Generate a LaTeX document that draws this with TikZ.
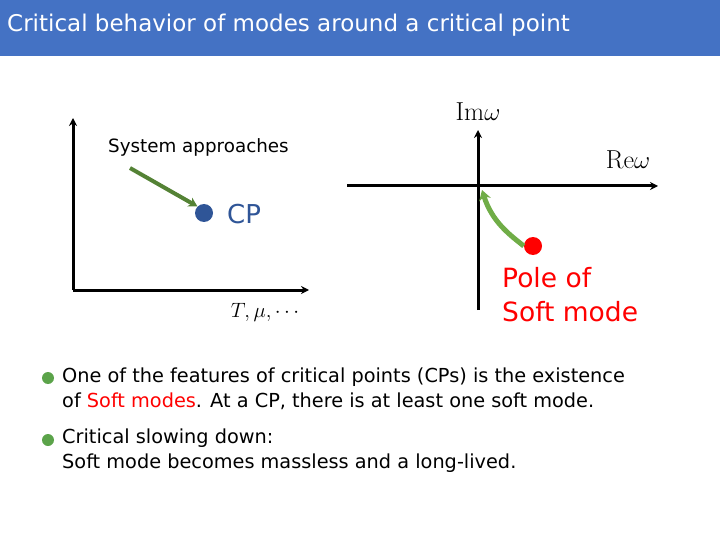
\documentclass[tikz,border=0pt]{standalone}
\usepackage{fontspec}
\setmainfont{DejaVu Sans}
\newfontfamily\mathlike{Latin Modern Roman}
\usetikzlibrary{arrows.meta}
\definecolor{hdr}{HTML}{4472C4}
\definecolor{grn}{HTML}{548235}
\definecolor{lgrn}{HTML}{70AD47}
\definecolor{cpb}{HTML}{2F5597}
\definecolor{bul}{HTML}{5BA34A}
\tikzset{axis/.style={line width=3pt,-{Stealth[length=8pt,width=8pt]}},
 txt/.style={anchor=west,inner sep=0pt,font=\fontsize{19.3}{25}\selectfont,align=left},
 bigred/.style={anchor=west,inner sep=0pt,text=red,font=\fontsize{26.5}{30}\selectfont},
 dot/.style={circle,inner sep=0pt,minimum size=#1}}
\begin{document}
\begin{tikzpicture}[x=1pt,y=-1pt]
\useasboundingbox (0,0) rectangle (720,540);
\fill[hdr] (0,0) rectangle (720,56);
\node[anchor=west,text=white,font=\fontsize{23}{26}\selectfont,inner sep=0pt] (title) at (7,25) {Critical behavior of modes around a critical point};
% left axes
\coordinate (o1) at (73,290);
\coordinate (y1) at (73,118);
\coordinate (x1) at (309,290);
\draw[axis] (o1) -- (y1);
\draw[axis] (o1) -- (x1);
\node[txt,font=\fontsize{18.3}{20}\selectfont] (sa) at (108,147) {System approaches};
\node[dot=18pt,fill=cpb] (cp) at (204,213) {};
\node[anchor=west,inner sep=0pt,text=cpb,font=\fontsize{26}{28}\selectfont] (cpl) at (227,214) {CP};
\coordinate (a0) at (130,168);
\draw[grn,line width=4pt,-{Stealth[length=9pt,width=10pt]}] (a0) -- (cp.north west);
\node[font=\mathlike\fontsize{21}{24}\selectfont] (tm) at (265,312) {$T,\mu,\cdots$};
% right axes
\coordinate (o2a) at (347,186);
\coordinate (x2) at (658,186);
\coordinate (o2b) at (478,310);
\coordinate (y2) at (478,130);
\draw[axis] (o2a) -- (x2);
\draw[axis] (o2b) -- (y2);
\node[font=\fontsize{26}{28}\selectfont\mathlike] (im) at (478,112) {Im$\omega$};
\node[font=\fontsize{26}{28}\selectfont\mathlike] (re) at (628,160) {Re$\omega$};
\node[dot=18pt,fill=red] (pole) at (533,246) {};
\draw[lgrn,line width=5pt,-{Stealth[length=10pt,width=12pt]}] (pole.west) .. controls (510,235) and (492,222) .. (482,190);
\node[bigred] (p1) at (502,278) {Pole of};
\node[bigred] (p2) at (502,312) {Soft mode};
% bullets
\node[dot=12pt,fill=bul] (b1) at (48,378) {};
\node[txt] (t1) at (62,389) {One of the features of critical points (CPs) is the existence\\of \textcolor{red}{Soft modes}. At a CP, there is at least one soft mode.};
\node[dot=12pt,fill=bul] (b2) at (48,440) {};
\node[txt] (t2) at (62,451) {Critical slowing down:\\Soft mode becomes massless and a long-lived.};
\end{tikzpicture}
\end{document}
